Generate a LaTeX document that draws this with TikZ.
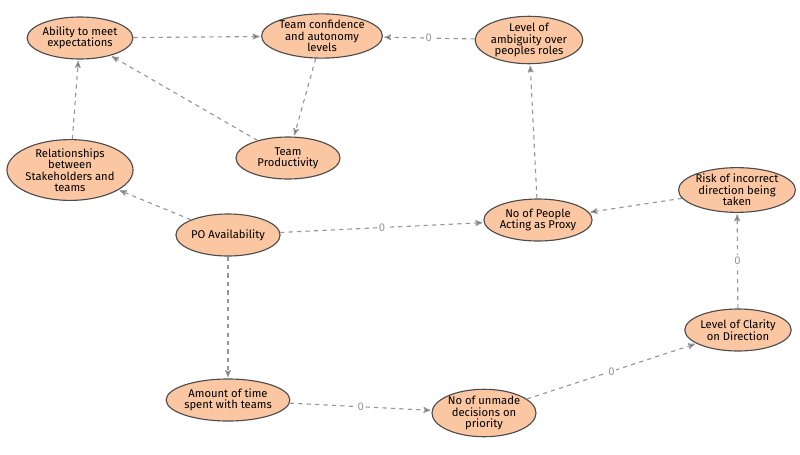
\documentclass[tikz,border=0pt]{standalone}
\usepackage{fontspec}
\setmainfont{Fira Sans}
\usetikzlibrary{arrows,positioning,shapes.geometric}
\definecolor{nodefill}{RGB}{251,198,162}
\definecolor{edgegray}{RGB}{150,150,150}
\begin{document}
\begin{tikzpicture}[x=0.025cm,y=-0.025cm,>=stealth',
	factor/.style={ellipse,draw=black!70,thick,fill=nodefill,minimum width=2.6cm,minimum height=1.05cm,inner sep=0pt,align=center,font=\footnotesize\linespread{0.85}\selectfont},
	link/.style={->,dashed,thick,draw=edgegray,shorten >=1pt},
	zero/.style={fill=white,inner sep=1pt,text=edgegray,font=\footnotesize}]
	\useasboundingbox (0,0) rectangle (800,454);
	\node[factor] (abil) at (80,38) {Ability to meet\\expectations};
	\node[factor] (conf) at (322,36) {Team confidence\\and autonomy\\levels};
	\node[factor] (ambig) at (529,40) {Level of\\ambiguity over\\peoples roles};
	\node[factor] (rel) at (70,170) {Relationships\\between\\Stakeholders and\\teams};
	\node[factor] (prod) at (288,158) {Team\\Productivity};
	\node[factor] (po) at (228,235) {PO Availability};
	\node[factor] (proxy) at (538,220) {No of People\\Acting as Proxy};
	\node[factor] (risk) at (737,190) {Risk of incorrect\\direction being\\taken};
	\node[factor] (clar) at (738,330) {Level of Clarity\\on Direction};
	\node[factor] (time) at (228,400) {Amount of time\\spent with teams};
	\node[factor] (unmade) at (484,413) {No of unmade\\decisions on\\priority};
	\path[link]
		(abil) edge (conf)
		(ambig) edge node[zero] {0} (conf)
		(conf) edge (prod)
		(prod) edge (abil)
		(rel) edge (abil)
		(po) edge (rel)
		(po) edge node[zero] {0} (proxy)
		(proxy) edge (ambig)
		(risk) edge (proxy)
		(clar) edge node[zero] {0} (risk)
		(po) edge (time)
		(time) edge node[zero] {0} (unmade)
		(unmade) edge node[zero] {0} (clar);
\end{tikzpicture}
\end{document}
